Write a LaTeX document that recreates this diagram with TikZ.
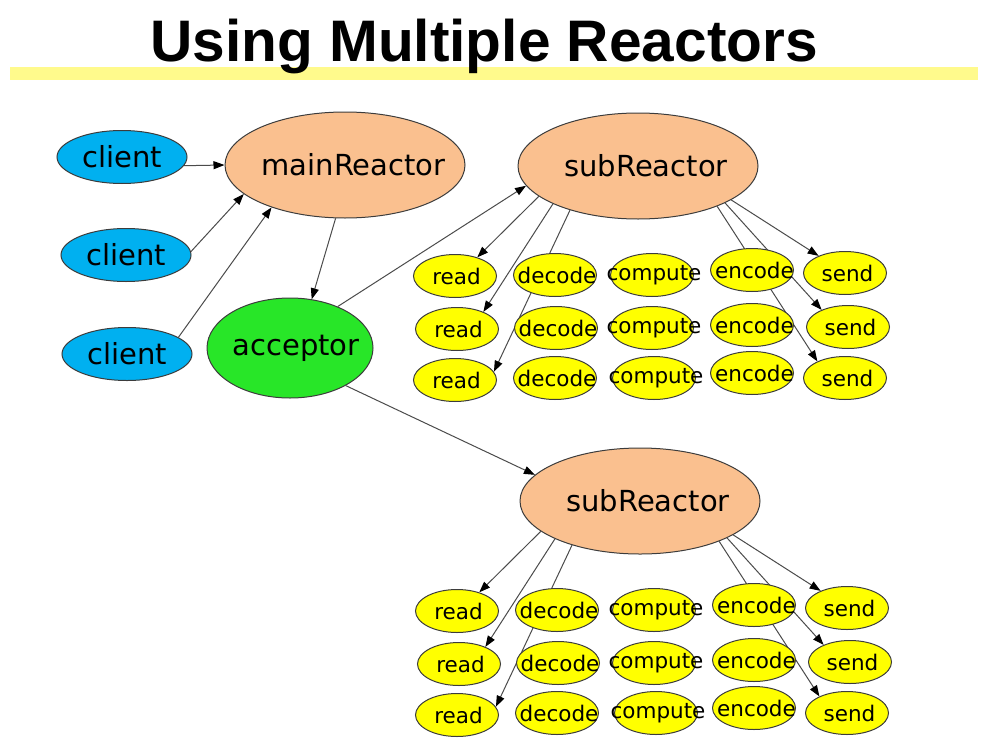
\documentclass[tikz,border=0pt]{standalone}
\usepackage{fontspec}
\setmainfont{DejaVu Sans}
\newfontfamily\titlefont{Liberation Sans}
\usetikzlibrary{shapes.geometric,arrows.meta,backgrounds}
\definecolor{peach}{RGB}{250,192,143}
\definecolor{clientblue}{RGB}{0,176,240}
\definecolor{accgreen}{RGB}{40,230,40}
\definecolor{taskyellow}{RGB}{255,255,0}
\definecolor{baryellow}{RGB}{255,250,140}
\definecolor{edgegray}{RGB}{60,60,60}
\definecolor{linegray}{RGB}{75,75,75}
\newcommand\zw[2][0pt]{\makebox[0pt]{\hspace{#1}#2}}
\tikzset{
  base/.style={ellipse, draw=edgegray, line width=1pt, inner sep=0pt, text=black},
  bigfont/.style={font=\fontsize{29}{32}\selectfont},
  clientnode/.style={base, bigfont, fill=clientblue, minimum width=130pt, minimum height=53pt},
  reactor/.style={base, bigfont, fill=peach, minimum width=240pt, minimum height=106pt},
  accnode/.style={base, bigfont, fill=accgreen, minimum width=166pt, minimum height=100pt},
  task/.style={base, fill=taskyellow, minimum width=83pt, minimum height=43pt, font=\fontsize{21.5}{24}\selectfont},
  conn/.style={draw=linegray, line width=1pt, -{Triangle[length=11pt,width=8pt,color=black]}},
  titlenode/.style={font=\titlefont\bfseries\fontsize{58.6}{62}\selectfont, anchor=base, inner sep=0pt},
}
\newcommand\taskgroup[2]{%
  \begin{scope}[shift={#2}]
    \node[reactor] (#1) at (638,166) {\zw[16pt]{subReactor}};
    \node[task] (#1r1) at (455,276) {\zw[3pt]{read}};
    \node[task] (#1r2) at (457,329) {\zw[3pt]{read}};
    \node[task] (#1r3) at (455,380) {\zw[3pt]{read}};
    \node[task] (#1d1) at (555,275) {\zw[4pt]{decode}};
    \node[task] (#1d2) at (556,328) {\zw[4pt]{decode}};
    \node[task] (#1d3) at (555,378) {\zw[4pt]{decode}};
    \node[task] (#1c1) at (652,275) {\zw[4pt]{compute}};
    \node[task] (#1c2) at (652,328) {\zw[4pt]{compute}};
    \node[task] (#1c3) at (654,378) {\zw[4pt]{compute}};
    \node[task] (#1e1) at (752,270) {\zw[5pt]{encode}};
    \node[task] (#1e2) at (752,325) {\zw[5pt]{encode}};
    \node[task] (#1e3) at (752,373) {\zw[5pt]{encode}};
    \node[task] (#1s1) at (845,273) {\zw[5pt]{send}};
    \node[task] (#1s2) at (848,327) {\zw[5pt]{send}};
    \node[task] (#1s3) at (845,378) {\zw[5pt]{send}};
  \end{scope}
  \begin{scope}[on background layer]
    \draw[conn] (#1.197) -- (#1r1.40);
    \draw[conn] (#1.204) -- (#1r2.33);
    \draw[conn] (#1.213) -- (#1r3.12);
    \draw[conn] (#1.340) -- (#1s1.147);
    \draw[conn] (#1.337) -- (#1s2.147);
    \draw[conn] (#1.333) -- (#1s3.149);
  \end{scope}
}
\begin{document}
\begin{tikzpicture}[x=1pt,y=-1pt]
  \useasboundingbox (0,0) rectangle (1008,752);
  % title
  \fill[baryellow] (10,67) rectangle (978,80);
  \node[titlenode] (title) at (484,62) {Using Multiple Reactors};
  % left part
  \node[clientnode] (c1) at (122,157) {\zw{client}};
  \node[clientnode] (c2) at (126,255) {\zw{client}};
  \node[clientnode] (c3) at (127,354) {\zw{client}};
  \node[reactor] (mr) at (345,165) {\zw[17pt]{mainReactor}};
  \node[accnode] (acc) at (290,348) {\zw[12pt]{acceptor}};
  % groups
  \taskgroup{sa}{(0,0)}
  \taskgroup{sb}{(2,335)}
  % connectors
  \begin{scope}[on background layer]
    \draw[conn] (c1.352) -- (mr.west);
    \draw[conn] (c2.3) -- (mr.196);
    \draw[conn] (c3.18) -- (mr.210);
    \draw[conn] (mr.260) -- (acc.66);
    \draw[conn] (acc.41) -- (sa.190);
    \draw[conn] (acc.326) -- (sb.166);
  \end{scope}
\end{tikzpicture}
\end{document}
